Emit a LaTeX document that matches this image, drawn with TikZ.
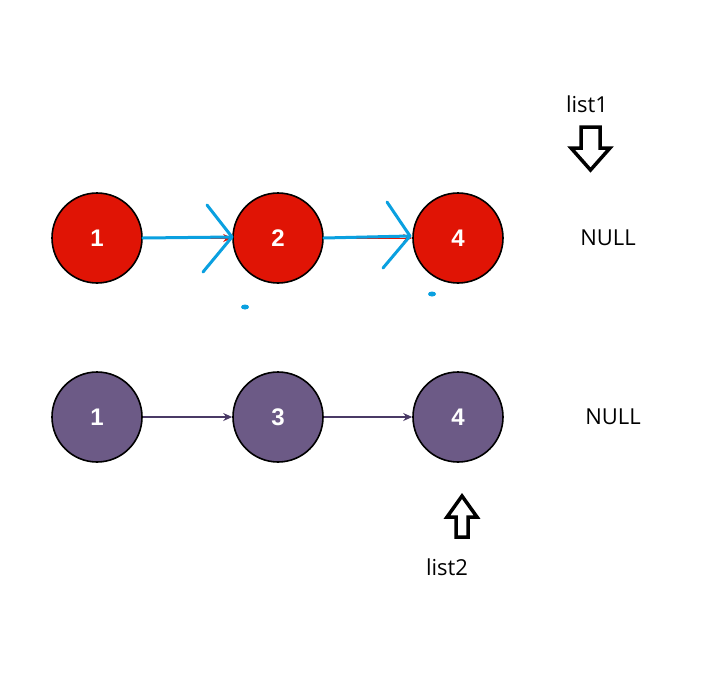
\documentclass[tikz,border=0pt]{standalone}
\usepackage{fontspec}
\usetikzlibrary{arrows.meta}
\setmainfont{Open Sans}
\newfontfamily\numf{Liberation Sans}
\definecolor{nred}{HTML}{E01405}
\definecolor{npur}{HTML}{6C5A86}
\definecolor{pen}{HTML}{0AA0E0}
\definecolor{parrow}{HTML}{4A3A66}
\begin{document}
\begin{tikzpicture}[x=1pt,y=-1pt,
  nd/.style={circle,draw=black,line width=1.6pt,minimum size=90pt,inner sep=0pt,text=white,font=\numf\bfseries\fontsize{24}{24}\selectfont},
  rn/.style={nd,fill=nred}, pn/.style={nd,fill=npur},
  lab/.style={font=\fontsize{22}{22}\selectfont},
  link/.style={-{Stealth[length=9pt,width=8pt]},line width=1.2pt},
  penl/.style={pen,line width=3pt,line cap=round,line join=round},
  hol/.style={draw=black,line width=3.5pt,fill=white,line join=miter}]
\useasboundingbox (0,0) rectangle (719,675);
\fill[white] (0,0) rectangle (719,675);
\node[rn] (a1) at (97,238) {1};
\node[rn] (a2) at (278,238) {2};
\node[rn] (a4) at (458,238) {4};
\node[pn] (b1) at (97,417) {1};
\node[pn] (b3) at (278,417) {3};
\node[pn] (b4) at (458,417) {4};
\node[lab] (n1) at (608,238) {NULL};
\node[lab] (n2) at (613,417) {NULL};
\node[lab] (l1) at (587,104) {list1};
\node[lab] (l2) at (447,567) {list2};
\draw[link,nred,line width=0.8pt] (a1) -- (a2);
\draw[link,nred,line width=0.8pt] (a2) -- (a4);
\draw[link,parrow] (b1) -- (b3);
\draw[link,parrow] (b3) -- (b4);
\coordinate (p1) at (232,237);
\coordinate (p2) at (410,236);
\draw[penl] (a1.east) -- (p1);
\draw[penl] (207,205) -- (p1) -- (203,272);
\draw[penl] (a2.east) -- (p2);
\draw[penl] (387,202) -- (p2) -- (383,268);
\fill[pen] (245,307) ellipse (4pt and 2.5pt);
\fill[pen] (432,294) ellipse (4pt and 2.5pt);
\draw[hol] (581,127) -- (600,127) -- (600,148) -- (610,148) -- (590.5,170) -- (571,148) -- (581,148) -- cycle;
\draw[hol] (456,537) -- (468,537) -- (468,517) -- (477,517) -- (462,496) -- (447,517) -- (456,517) -- cycle;
\end{tikzpicture}
\end{document}
